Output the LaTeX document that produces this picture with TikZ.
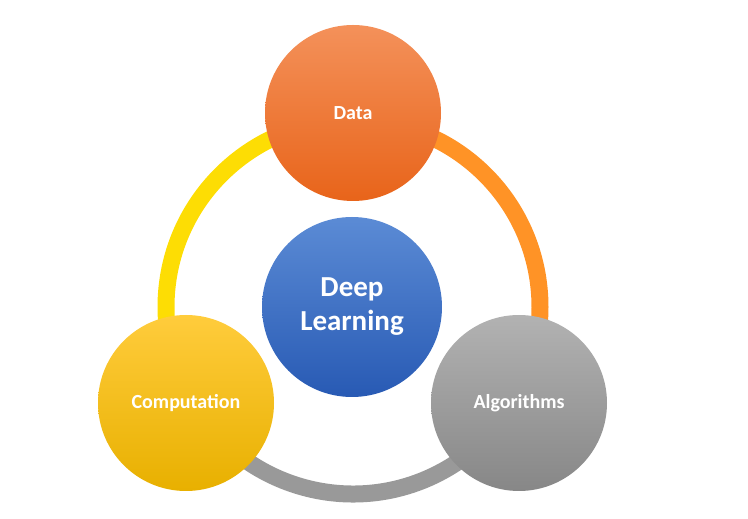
\documentclass[tikz,border=0pt]{standalone}
\usepackage{fontspec}
\setmainfont{Carlito}
\begin{document}
\begin{tikzpicture}[x=1pt,y=1pt,
  ball/.style={circle,minimum size=176pt,inner sep=0pt,text=white,font=\bfseries\fontsize{20}{22}\selectfont,align=center},
  ringarc/.style={line width=17pt}]
\useasboundingbox (0,0) rectangle (748,519);
\coordinate (c) at (353,212);
\draw[ringarc,color=yellow!80!orange] ([shift={(90:187)}]c) arc (90:215:187);
\draw[ringarc,color=orange!85!white] ([shift={(90:187)}]c) arc (90:-35:187);
\draw[ringarc,color=gray!80] ([shift={(210:187)}]c) arc (210:330:187);
\node[ball,top color={rgb,255:red,244;green,145;blue,90},bottom color={rgb,255:red,232;green,100;blue,26}] (data) at (353,406) {Data};
\node[ball,minimum size=180pt,font=\bfseries\fontsize{29}{34}\selectfont,top color={rgb,255:red,91;green,139;blue,213},bottom color={rgb,255:red,40;green,90;blue,180}] (dl) at (352,212) {Deep\\Learning};
\node[ball,top color={rgb,255:red,255;green,204;blue,60},bottom color={rgb,255:red,232;green,176;blue,0}] (comp) at (186,116) {Computation};
\node[ball,top color={rgb,255:red,178;green,178;blue,178},bottom color={rgb,255:red,135;green,135;blue,135}] (alg) at (519,116) {Algorithms};
\end{tikzpicture}
\end{document}
